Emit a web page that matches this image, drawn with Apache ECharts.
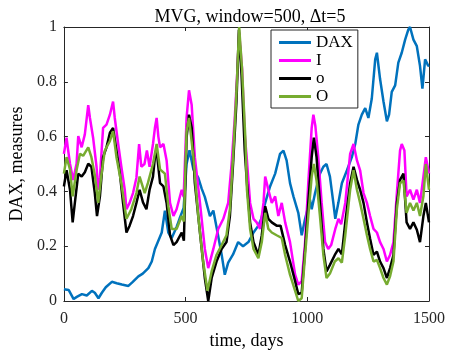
<!DOCTYPE html>
<html><head><meta charset="utf-8">
<script src="https://cdn.jsdelivr.net/npm/echarts@6/dist/echarts.min.js"></script>
<style>html,body{margin:0;padding:0;background:#fff}#c{width:474px;height:355px}</style>
</head><body><div id="c"></div>
<script>
var xTicks = [0, 500, 1000, 1500];
var yTicks = [0, 0.2, 0.4, 0.6, 0.8, 1];

var daxDays = [0,8,20,40,53,74,94,115,127,142,156,172,197,217,238,265,283,306,324,347,361,374,388,402,415,429,443,463,475,492,504,516,532,552,566,579,600,614,627,648,661,675,695,716,736,758,779,799,811,827,847,868,888,902,915,929,943,963,977,991,1011,1018,1032,1052,1066,1079,1093,1107,1115,1128,1142,1163,1183,1197,1210,1224,1238,1251,1265,1279,1286,1299,1313,1327,1336,1347,1361,1374,1388,1402,1415,1422,1436,1450,1463,1473,1484,1497,1500];
var daxVals = [0.043,0.05,0.04,0.007,0.015,0.025,0.02,0.037,0.03,0.01,0.03,0.05,0.07,0.065,0.06,0.055,0.07,0.09,0.1,0.12,0.144,0.19,0.22,0.25,0.33,0.25,0.23,0.27,0.3,0.34,0.5,0.55,0.48,0.45,0.41,0.38,0.31,0.33,0.27,0.17,0.096,0.14,0.17,0.215,0.2,0.215,0.25,0.275,0.3,0.358,0.418,0.465,0.537,0.549,0.513,0.43,0.382,0.322,0.24,0.3,0.37,0.335,0.394,0.465,0.49,0.5,0.454,0.358,0.3,0.36,0.43,0.477,0.525,0.573,0.644,0.68,0.704,0.668,0.739,0.882,0.906,0.81,0.728,0.656,0.68,0.763,0.787,0.87,0.906,0.954,0.99,1.0,0.954,0.93,0.858,0.775,0.882,0.858,0.86];

var iDays = [0,11,16,25,38,52,59,73,86,100,107,120,134,141,148,161,175,189,202,209,223,236,250,257,270,284,298,309,318,331,341,352,366,374,381,388,395,409,422,436,450,463,484,492,504,514,525,538,559,579,593,614,634,655,675,689,702,713,720,732,743,752,765,779,792,806,820,827,840,854,868,881,895,909,929,950,963,977,991,1004,1018,1025,1033,1045,1059,1073,1086,1098,1115,1128,1139,1156,1176,1190,1204,1217,1231,1245,1258,1272,1286,1299,1313,1327,1340,1354,1368,1381,1388,1399,1408,1422,1436,1450,1463,1477,1487,1500];
var iVals = [0.537,0.596,0.56,0.501,0.442,0.501,0.602,0.561,0.608,0.715,0.668,0.596,0.49,0.406,0.45,0.632,0.644,0.68,0.728,0.668,0.573,0.49,0.406,0.335,0.358,0.394,0.45,0.573,0.49,0.5,0.549,0.49,0.573,0.632,0.668,0.6,0.561,0.573,0.513,0.358,0.31,0.335,0.406,0.38,0.668,0.769,0.715,0.525,0.358,0.19,0.12,0.19,0.263,0.3,0.358,0.5,0.668,0.846,0.98,0.846,0.608,0.513,0.358,0.3,0.287,0.263,0.358,0.454,0.406,0.358,0.382,0.31,0.358,0.287,0.215,0.096,0.06,0.072,0.215,0.43,0.632,0.68,0.64,0.525,0.358,0.215,0.19,0.204,0.263,0.3,0.28,0.358,0.537,0.573,0.513,0.477,0.394,0.358,0.31,0.263,0.25,0.215,0.19,0.144,0.168,0.215,0.394,0.549,0.573,0.549,0.382,0.406,0.37,0.406,0.358,0.454,0.525,0.465];

var oDays = [0,11,25,36,45,59,73,86,100,113,127,136,148,161,175,189,202,216,230,243,257,270,284,298,311,325,339,352,366,374,381,395,409,422,436,450,463,484,493,504,514,525,538,559,579,593,607,627,648,668,682,695,709,719,730,743,752,765,779,799,813,827,840,854,874,890,909,929,950,963,977,991,1004,1018,1027,1038,1052,1066,1079,1093,1113,1128,1142,1156,1176,1190,1204,1217,1231,1245,1258,1272,1286,1299,1313,1327,1340,1354,1368,1381,1395,1408,1422,1436,1450,1463,1477,1487,1500];
var oVals = [0.418,0.477,0.406,0.287,0.358,0.465,0.454,0.47,0.501,0.49,0.394,0.31,0.382,0.525,0.561,0.614,0.632,0.549,0.465,0.358,0.25,0.275,0.31,0.358,0.406,0.36,0.335,0.406,0.454,0.525,0.549,0.43,0.418,0.358,0.24,0.204,0.215,0.25,0.22,0.596,0.68,0.632,0.43,0.25,0.084,0.0,0.084,0.144,0.19,0.215,0.31,0.5,0.728,0.99,0.823,0.549,0.43,0.287,0.215,0.168,0.24,0.346,0.3,0.287,0.275,0.275,0.204,0.144,0.072,0.025,0.03,0.19,0.358,0.525,0.596,0.525,0.358,0.19,0.108,0.132,0.168,0.19,0.17,0.287,0.43,0.49,0.442,0.406,0.358,0.287,0.227,0.168,0.18,0.144,0.12,0.084,0.12,0.168,0.358,0.442,0.465,0.287,0.263,0.287,0.26,0.215,0.31,0.358,0.287];

var bigODays = [0,11,25,36,52,66,79,100,113,127,141,154,168,189,202,216,236,257,277,298,311,332,345,366,381,395,415,429,443,463,484,493,504,514,532,552,572,590,607,627,648,668,682,695,709,720,732,746,752,765,779,799,813,827,840,854,874,895,909,929,950,963,977,991,1004,1018,1027,1038,1052,1066,1079,1093,1113,1128,1142,1156,1176,1190,1204,1217,1231,1245,1258,1272,1286,1299,1313,1327,1340,1354,1368,1381,1395,1408,1422,1436,1450,1463,1477,1487,1500];
var bigOVals = [0.465,0.525,0.48,0.382,0.477,0.537,0.53,0.561,0.525,0.46,0.358,0.46,0.549,0.584,0.62,0.525,0.43,0.3,0.335,0.394,0.454,0.394,0.43,0.5,0.573,0.48,0.465,0.346,0.263,0.263,0.31,0.29,0.62,0.668,0.525,0.31,0.144,0.037,0.108,0.168,0.204,0.24,0.335,0.525,0.763,1.0,0.846,0.584,0.406,0.263,0.19,0.156,0.215,0.322,0.263,0.25,0.24,0.23,0.168,0.096,0.037,0.0,0.01,0.168,0.31,0.454,0.5,0.44,0.31,0.168,0.084,0.1,0.144,0.156,0.14,0.24,0.406,0.477,0.406,0.358,0.3,0.24,0.19,0.144,0.15,0.12,0.084,0.06,0.09,0.144,0.335,0.43,0.44,0.322,0.358,0.33,0.358,0.31,0.382,0.5,0.406];

function zip(a, b) { return a.map(function (d, i) { return [d, b[i]]; }); }

var font = 'Liberation Serif';
var axisColor = '#262626';
var chart = echarts.init(document.getElementById('c'), null, {renderer: 'canvas'});
var baseX = {
  type: 'value', min: xTicks[0], max: xTicks[xTicks.length - 1], interval: 500,
  axisLine: {show: true, onZero: false, lineStyle: {color: axisColor, width: 1}},
  axisTick: {show: true, inside: true, length: 4, lineStyle: {color: axisColor}},
  splitLine: {show: false}
};
var baseY = {
  type: 'value', min: yTicks[0], max: yTicks[yTicks.length - 1], interval: 0.2,
  axisLine: {show: true, onZero: false, lineStyle: {color: axisColor, width: 1}},
  axisTick: {show: true, inside: true, length: 4, lineStyle: {color: axisColor}},
  splitLine: {show: false}
};
function mk(base, extra) { return Object.assign({}, base, extra); }

chart.setOption({
  animation: false,
  backgroundColor: '#fff',
  title: {
    text: 'MVG, window=500, \u0394t=5', left: 245, textAlign: 'center', top: 3,
    textStyle: {fontFamily: font, fontSize: 18, fontWeight: 'normal', color: '#000'}
  },
  grid: {left: 61, right: 45, top: 27, bottom: 48, containLabel: false},
  legend: {
    left: 271, top: 30, orient: 'vertical',
    backgroundColor: '#fff', borderColor: axisColor, borderWidth: 1,
    padding: [4, 5, 3, 8], itemGap: 1, itemWidth: 32, itemHeight: 3, icon: 'rect',
    textStyle: {fontFamily: font, fontSize: 17, color: '#000'},
    data: ['DAX', 'I', 'o', 'O']
  },
  xAxis: [
    mk(baseX, {position: 'bottom', name: 'time, days', nameLocation: 'middle', nameGap: 31,
      nameTextStyle: {fontFamily: font, fontSize: 18, color: '#000'},
      axisLabel: {fontFamily: font, fontSize: 16, color: '#262626', margin: 10,
        formatter: function (v) { return String(v); }}}),
    mk(baseX, {position: 'top', axisLabel: {show: false}})
  ],
  yAxis: [
    mk(baseY, {position: 'left', name: 'DAX, measures', nameLocation: 'middle', nameGap: 31,
      nameTextStyle: {fontFamily: font, fontSize: 18, color: '#000'},
      axisLabel: {fontFamily: font, fontSize: 16, color: '#262626', margin: 7}}),
    mk(baseY, {position: 'right', axisLabel: {show: false}})
  ],
  series: [
    {name: 'DAX', type: 'line', data: zip(daxDays, daxVals), showSymbol: false, color: '#0072BD', lineStyle: {width: 2.5}},
    {name: 'I', type: 'line', data: zip(iDays, iVals), showSymbol: false, color: '#FF00FF', lineStyle: {width: 2.5}},
    {name: 'o', type: 'line', data: zip(oDays, oVals), showSymbol: false, color: '#000000', lineStyle: {width: 2.5}},
    {name: 'O', type: 'line', data: zip(bigODays, bigOVals), showSymbol: false, color: '#77AC30', lineStyle: {width: 2.5}}
  ]
});
</script></body></html>
